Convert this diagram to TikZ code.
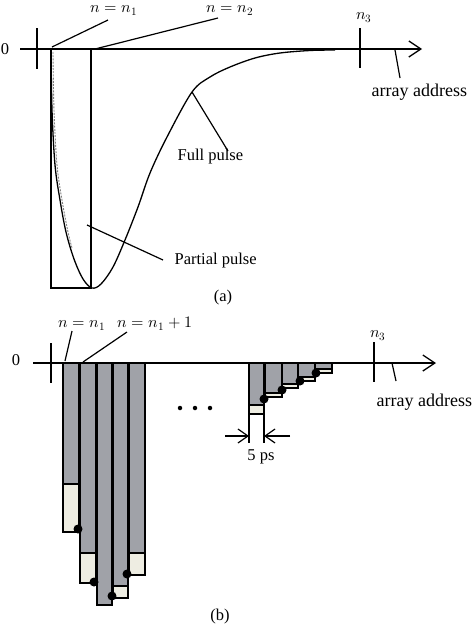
\documentclass[tikz,border=0pt]{standalone}
\usepackage{fontspec}
\usepackage{unicode-math}
\setmainfont{Liberation Serif}
\setmathfont{Latin Modern Math}
\usetikzlibrary{arrows.meta}
\definecolor{bargray}{RGB}{160,162,168}
\definecolor{barbeige}{RGB}{238,237,226}
\begin{document}
\begin{tikzpicture}[x=1pt,y=-1pt,line width=1.3pt,
  lbl/.style={font=\fontsize{16.5}{18}\selectfont,inner sep=0pt},
  addr/.style={font=\fontsize{18}{20}\selectfont,inner sep=0pt,anchor=west},
  mlbl/.style={font=\fontsize{16}{18}\selectfont,inner sep=0pt,anchor=base},
  ax/.style={-{Straight Barb[length=12pt,width=16pt,line width=1.3pt]}},
  dimarr/.style={-{Straight Barb[length=10pt,width=14pt,line width=1.2pt]}},
  gbar/.style={draw=black,fill=bargray,line width=1.1pt},
  bbar/.style={draw=black,fill=barbeige,line width=1.1pt},
  bdot/.style={circle,fill=black,inner sep=0pt,minimum size=9pt},
  edot/.style={circle,fill=black,inner sep=0pt,minimum size=4.5pt},
  leader/.style={line width=1.2pt}]
\useasboundingbox (0,0) rectangle (474,627);

% ================= (a) =================
\draw (51,49) rectangle (91,288);
\draw plot[smooth,tension=0.55] coordinates {(51,49) (52,110) (55,165) (60,200) (66,232) (74,259) (83,279) (92,288) (101,284) (113,267) (125,240) (138,207) (150,173) (167,137) (192,92) (210,77) (230,67) (255,58) (280,53) (310,50.5) (335,50)};
\draw[gray,line width=0.9pt,dash pattern=on 2pt off 1.2pt] plot[smooth,tension=0.55] coordinates {(53,52) (54,110) (57,165) (62,200) (68,232) (72,248)};
\coordinate (aS) at (20,49);
\coordinate (aE) at (422,49);
\draw[ax] (aS) -- (aE);
\draw (37,28) -- (37,69);
\draw (360,28) -- (360,68);

\node[lbl] (a0) at (5,49) {0};
\node[mlbl] (an1) at (114,12) {$n = n_1$};
\node[mlbl] (an2) at (230,12) {$n = n_2$};
\node[mlbl] (an3) at (364,19) {$n_3$};
\node[addr] (aaddr) at (371,92) {array address};
\node[lbl,anchor=west] (afull) at (177,157) {Full pulse};
\node[lbl,anchor=west] (apart) at (174,261) {Partial pulse};
\node[lbl] (acap) at (223,298) {(a)};

\coordinate (l1a) at (108,20); \coordinate (l1b) at (52,47);
\coordinate (l2a) at (218,18); \coordinate (l2b) at (95,49);
\coordinate (l3a) at (395,50); \coordinate (l3b) at (400,78);
\coordinate (l4a) at (192,92); \coordinate (l4b) at (228,151);
\coordinate (l5a) at (87,225); \coordinate (l5b) at (163,260);
\draw[leader] (l1a) -- (l1b);
\draw[leader] (l2a) -- (l2b);
\draw[leader] (l3a) -- (l3b);
\draw[leader] (l4a) -- (l4b);
\draw[leader] (l5a) -- (l5b);

% ================= (b) =================
% left bars
\draw[bbar] (63,484) rectangle (79,532);
\draw[gbar] (63,363) rectangle (79,484);
\draw[bbar] (80,553) rectangle (96,583);
\draw[gbar] (80,363) rectangle (96,553);
\draw[gbar] (97,363) rectangle (112,605);
\draw[bbar] (113,586) rectangle (128,598);
\draw[gbar] (113,363) rectangle (128,586);
\draw[bbar] (129,553) rectangle (145,575);
\draw[gbar] (129,363) rectangle (145,553);
\node[bdot] (d1) at (78,529) {};
\node[bdot] (d2) at (94,582) {};
\node[bdot] (d3) at (112,596) {};
\node[bdot] (d4) at (127,574) {};

% right bars
\draw[bbar] (249,405) rectangle (264,414);
\draw[gbar] (249,363) rectangle (264,405);
\draw[bbar] (265,393) rectangle (282,397);
\draw[gbar] (265,363) rectangle (282,393);
\draw[bbar] (282,384) rectangle (298,388);
\draw[gbar] (282,363) rectangle (298,384);
\draw[bbar] (298,377) rectangle (315,381);
\draw[gbar] (298,363) rectangle (315,377);
\draw[bbar] (315,369) rectangle (332,373);
\draw[gbar] (315,363) rectangle (332,369);
\node[bdot] (r1) at (264,399) {};
\node[bdot] (r2) at (282,390) {};
\node[bdot] (r3) at (300,381) {};
\node[bdot] (r4) at (316,373) {};

\node[edot] (e1) at (180,408) {};
\node[edot] (e2) at (195,408) {};
\node[edot] (e3) at (210,408) {};

\coordinate (bS) at (33,363);
\coordinate (bE) at (436,363);
\draw[ax] (bS) -- (bE);
\draw (51,343) -- (51,383);
\draw (374,342) -- (374,382);

% dimension
\coordinate (v1a) at (249,414); \coordinate (v1b) at (249,443);
\coordinate (v2a) at (264,414); \coordinate (v2b) at (264,443);
\draw[leader] (v1a) -- (v1b);
\draw[leader] (v2a) -- (v2b);
\coordinate (da1) at (225,436); \coordinate (da2) at (249,436);
\coordinate (db1) at (290,436); \coordinate (db2) at (264,436);
\draw[dimarr,leader] (da1) -- (da2);
\draw[dimarr,leader] (db1) -- (db2);

\node[lbl] (b0) at (16,360) {0};
\node[mlbl] (bn1) at (82,327) {$n = n_1$};
\node[mlbl] (bn2) at (155,327) {$n = n_1 + 1$};
\node[mlbl] (bn3) at (378,337) {$n_3$};
\node[addr] (baddr) at (376,402) {array address};
\node[lbl] (bps) at (261,457) {5 ps};
\node[lbl] (bcap) at (220,617) {(b)};

\coordinate (m1a) at (72,331); \coordinate (m1b) at (65,361);
\coordinate (m2a) at (127,332); \coordinate (m2b) at (83,362);
\coordinate (m3a) at (392,363); \coordinate (m3b) at (396,381);
\draw[leader] (m1a) -- (m1b);
\draw[leader] (m2a) -- (m2b);
\draw[leader] (m3a) -- (m3b);
\end{tikzpicture}
\end{document}
